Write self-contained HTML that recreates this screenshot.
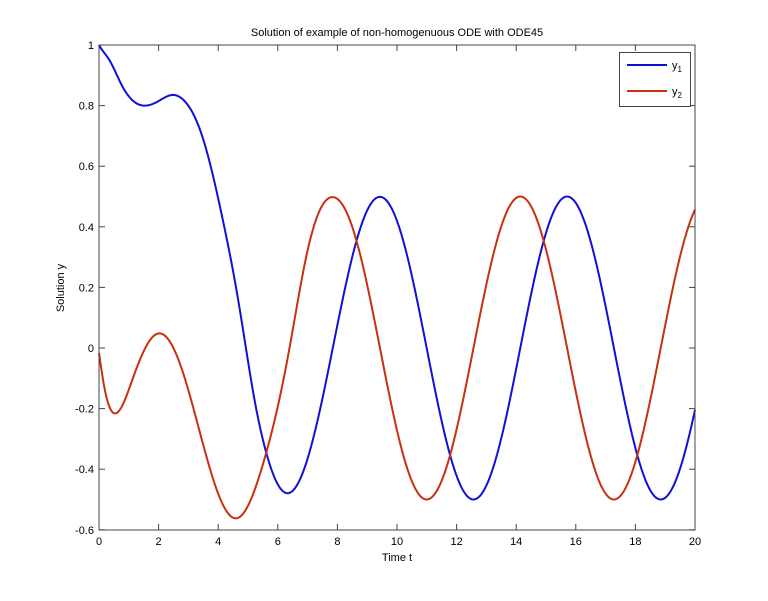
<!DOCTYPE html>
<html><head><meta charset="utf-8"><style>
body{margin:0;background:#fff;}
svg text{font-family:"Liberation Sans",sans-serif;font-size:11px;fill:#000;}
</style></head><body>
<svg id="s" width="768" height="596" xmlns="http://www.w3.org/2000/svg">
<rect x="0" y="0" width="768" height="596" fill="#fff"/>
<g id="ax"></g>
<path id="p1" fill="none" stroke="#1010d8" stroke-width="2"/>
<path id="p2" fill="none" stroke="#c83010" stroke-width="2"/>
<rect x="99" y="45" width="596" height="485" fill="none" stroke="#444" stroke-width="1"/>
<text x="397" y="36" text-anchor="middle">Solution of example of non-homogenuous ODE with ODE45</text>
<text x="397" y="561" text-anchor="middle">Time t</text>
<text x="64" y="288" text-anchor="middle" transform="rotate(-90 64 288)">Solution y</text>
<rect x="619.5" y="52.5" width="71" height="54" fill="#fff" stroke="#444"/>
<line x1="627" y1="65" x2="667" y2="65" stroke="#1010d8" stroke-width="2"/>
<line x1="627" y1="91" x2="667" y2="91" stroke="#c83010" stroke-width="2"/>
<text x="672" y="69">y<tspan font-size="8" dy="3">1</tspan></text>
<text x="672" y="95">y<tspan font-size="8" dy="3">2</tspan></text>
</svg>
<script>
var X=t=>99+t*29.8, Y=v=>348-v*303;
var ax=document.getElementById('ax'),h='';
for(var i=0;i<=10;i++){var x=X(i*2);h+='<line x1="'+x+'" y1="530" x2="'+x+'" y2="524" stroke="#444"/><line x1="'+x+'" y1="45" x2="'+x+'" y2="51" stroke="#444"/><text x="'+x+'" y="545" text-anchor="middle">'+(i*2)+'</text>';}
for(var j=0;j<=8;j++){var v=-0.6+j*0.2,y=Y(v);var l=Math.abs(v)<1e-9?'0':(Math.round(v*10)/10).toString();h+='<line x1="99" y1="'+y+'" x2="105" y2="'+y+'" stroke="#444"/><line x1="695" y1="'+y+'" x2="689" y2="'+y+'" stroke="#444"/><text x="94" y="'+(y+4)+'" text-anchor="end">'+l+'</text>';}
ax.innerHTML=h;
function spline(xs,ys){var n=xs.length,a=[],b=[],c=[],r=[],m=new Array(n).fill(0);
for(var i=1;i<n-1;i++){a[i]=xs[i]-xs[i-1];b[i]=2*(xs[i+1]-xs[i-1]);c[i]=xs[i+1]-xs[i];r[i]=6*((ys[i+1]-ys[i])/(xs[i+1]-xs[i])-(ys[i]-ys[i-1])/(xs[i]-xs[i-1]));}
for(i=2;i<n-1;i++){var w=a[i]/b[i-1];b[i]-=w*c[i-1];r[i]-=w*r[i-1];}
for(i=n-2;i>=1;i--){m[i]=(r[i]-c[i]*m[i+1])/b[i];}
return function(t){if(t>=xs[n-1])return ys[n-1];var k=0;while(t>xs[k+1])k++;var hh=xs[k+1]-xs[k],A=(xs[k+1]-t)/hh,B=(t-xs[k])/hh;
return A*ys[k]+B*ys[k+1]+((A*A*A-A)*m[k]+(B*B*B-B)*m[k+1])*hh*hh/6;};}
function build(early,f){var xs=early.map(p=>p[0]).concat([8.5,10]);var ys=early.map(p=>p[1]-f(p[0])).concat([0,0]);
var T=spline(xs,ys);var d='';for(var t=0;t<=20.0001;t+=0.04){d+=(t?'L':'M')+X(t).toFixed(2)+','+Y(f(t)+T(t)).toFixed(2);}return d;}
var e1=[[0,1],[0.35,0.95],[0.76,0.868],[1.49,0.80],[2.0,0.815],[2.44,0.835],[2.89,0.813],[3.45,0.703],[4.12,0.439],[4.68,0.153],[5.23,-0.177],[5.57,-0.33],[6.3,-0.479],[7.0,-0.365]];
var e2=[[0,-0.017],[0.2,-0.14],[0.54,-0.216],[1.1,-0.11],[1.99,0.048],[2.77,-0.067],[3.56,-0.342],[4.62,-0.562],[5.46,-0.397],[6.35,-0.023],[7.0,0.322],[7.85,0.498]];
document.getElementById('p1').setAttribute('d',build(e1,t=>-0.5*Math.cos(t)));
document.getElementById('p2').setAttribute('d',build(e2,t=>0.5*Math.sin(t)));
</script>
</body></html>
